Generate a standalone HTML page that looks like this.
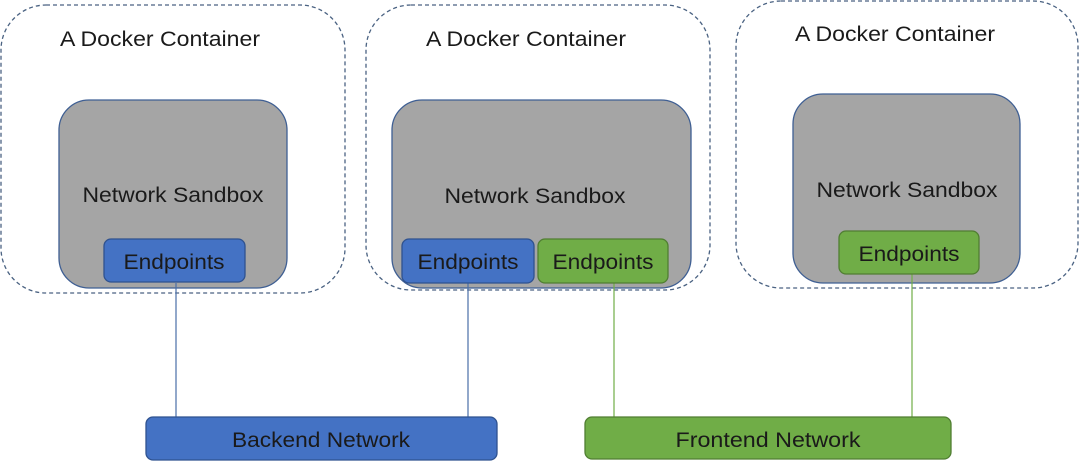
<!DOCTYPE html>
<html><head><meta charset="utf-8"><style>
html,body{margin:0;padding:0;background:#fff;width:1080px;height:461px;overflow:hidden}
text{font-family:"Liberation Sans",sans-serif;fill:#1a1a1a}
</style></head><body>
<svg width="1080" height="461" viewBox="0 0 1080 461" xmlns="http://www.w3.org/2000/svg">
<g fill="none" stroke="#4a6282" stroke-width="1.3" stroke-dasharray="4,3">
<rect x="1" y="5" width="344" height="288" rx="45"/>
<rect x="366" y="5" width="344" height="285" rx="45"/>
<rect x="736" y="1" width="342" height="287" rx="45"/>
</g>
<g font-size="21" text-anchor="middle">
<text x="160" y="46" textLength="200" lengthAdjust="spacingAndGlyphs">A Docker Container</text>
<text x="526" y="46" textLength="200" lengthAdjust="spacingAndGlyphs">A Docker Container</text>
<text x="895" y="41" textLength="200" lengthAdjust="spacingAndGlyphs">A Docker Container</text>
</g>
<g fill="#a5a5a5" stroke="#3f5f93" stroke-width="1.3">
<rect x="59" y="100" width="228" height="188" rx="30"/>
<rect x="392" y="100" width="299" height="188" rx="30"/>
<rect x="793" y="94" width="227" height="189" rx="30"/>
</g>
<g font-size="21" text-anchor="middle">
<text x="173" y="202" textLength="181" lengthAdjust="spacingAndGlyphs">Network Sandbox</text>
<text x="535" y="203" textLength="181" lengthAdjust="spacingAndGlyphs">Network Sandbox</text>
<text x="907" y="197" textLength="181" lengthAdjust="spacingAndGlyphs">Network Sandbox</text>
</g>
<line x1="176" y1="283" x2="176" y2="418" stroke="#4a6fa8" stroke-width="1.2"/>
<line x1="468" y1="283" x2="468" y2="418" stroke="#4a6fa8" stroke-width="1.2"/>
<line x1="614" y1="283" x2="614" y2="418" stroke="#70ad47" stroke-width="1.2"/>
<line x1="912" y1="274" x2="912" y2="418" stroke="#70ad47" stroke-width="1.2"/>
<g stroke-width="1.3">
<rect x="104" y="239" width="141" height="43" rx="7" fill="#4472c4" stroke="#2f528f"/>
<rect x="402" y="239" width="132" height="44" rx="7" fill="#4472c4" stroke="#2f528f"/>
<rect x="538" y="239" width="130" height="44" rx="7" fill="#70ad47" stroke="#507e32"/>
<rect x="839" y="231" width="140" height="43" rx="7" fill="#70ad47" stroke="#507e32"/>
<rect x="146" y="417" width="351" height="43" rx="7" fill="#4472c4" stroke="#2f528f"/>
<rect x="585" y="417" width="366" height="42" rx="7" fill="#70ad47" stroke="#507e32"/>
</g>
<g font-size="21" text-anchor="middle">
<text x="174" y="269" textLength="101" lengthAdjust="spacingAndGlyphs">Endpoints</text>
<text x="468" y="269" textLength="101" lengthAdjust="spacingAndGlyphs">Endpoints</text>
<text x="603" y="269" textLength="101" lengthAdjust="spacingAndGlyphs">Endpoints</text>
<text x="909" y="261" textLength="101" lengthAdjust="spacingAndGlyphs">Endpoints</text>
<text x="321" y="447" textLength="178" lengthAdjust="spacingAndGlyphs">Backend Network</text>
<text x="768" y="447" textLength="185" lengthAdjust="spacingAndGlyphs">Frontend Network</text>
</g>
</svg>
</body></html>
